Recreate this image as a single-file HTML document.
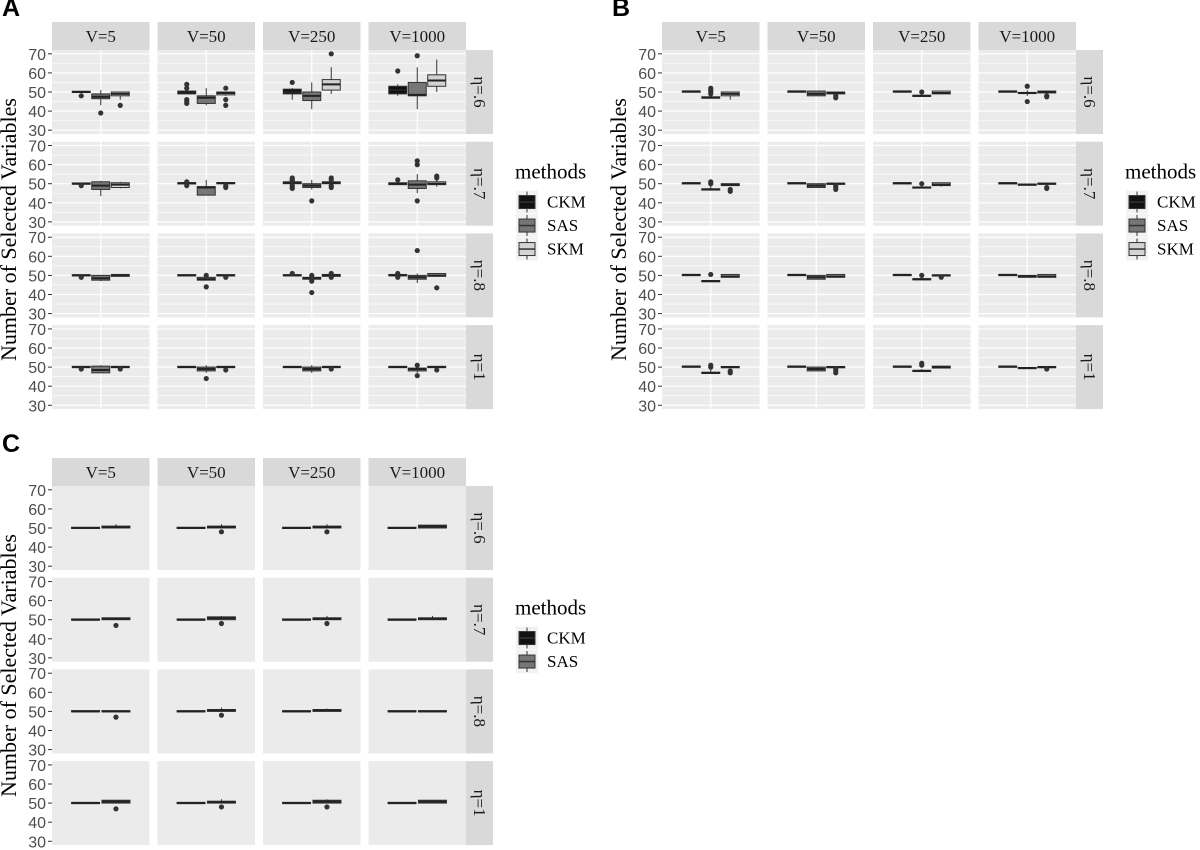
<!DOCTYPE html>
<html><head><meta charset="utf-8">
<style>
body{margin:0;background:#fff;}
svg{display:block;}
</style></head>
<body>
<svg id="chart" width="1200" height="850" viewBox="0 0 1200 850" xmlns="http://www.w3.org/2000/svg"></svg>
<script>
// ---- data: each box = [lowWhisker, q1, median, q3, highWhisker, [outliers]] ----
const columns = ["V=5","V=50","V=250","V=1000"];
const rowsLabels = ["η=.6","η=.7","η=.8","η=1"];
const yTicks = [30,40,50,60,70];
const methodsAB = ["CKM","SAS","SKM"];
const methodsC = ["CKM","SAS"];

const A_eta6 = [
 [[50,50,50,50.4,50.4,[48]],[43,46.5,47.5,49,51,[39]],[46,48,49,50,50,[43]]],
 [[49,49,50,50.5,51,[54,52,46,45,44]],[43,44,47,48,52,[]],[48,48.5,49.5,50,50,[52,46,43]]],
 [[46,49,50,51.5,52,[55]],[41,45.5,48,50,55,[]],[49,51,54,56.5,63,[70]]],
 [[48,49,51,53,54,[61]],[41,48,48.5,55,63,[69]],[50,53,56,59,67,[]]]
];
const A_eta7 = [
 [[50,50,50,50.4,50.4,[49]],[43.5,47,49,51,51.5,[]],[47.5,48,49.5,50.5,51,[]]],
 [[50,50,50.3,50.5,50.5,[51,49]],[44,44,48,48.5,52,[]],[50.3,50.3,50.3,50.6,50.6,[48,49]]],
 [[50,50,50.5,51,51,[53,52,51.8,49,48,47.5]],[47,48,49,50,52,[41]],[50,50,50.5,51,51,[53,52,49,48]]],
 [[49.5,49.5,50,50.5,50.8,[52]],[45,47.5,49.5,51.5,55,[62,60,41]],[48.5,49.5,50,51,52,[54,53]]]
];
const A_eta8 = [
 [[50,50,50,50.4,50.4,[49]],[47,47.5,48.5,50,50,[]],[49.5,49.5,50,50.5,50.5,[]]],
 [[50,50,50,50.4,50.4,[]],[47.5,47.5,48,49,49,[50,44]],[50,50,50,50.4,50.4,[49]]],
 [[50,50,50,50.4,50.4,[51]],[47,48,48.5,49,50,[50,49,48,47,41]],[49.5,49.5,50,50.5,50.5,[51,49]]],
 [[50,50,50,50.5,50.5,[51,49]],[46,48,49,50,51,[63]],[49.5,49.5,50,51,51,[43.5]]]
];
const A_eta1 = [
 [[50,50,50,50.4,50.4,[49]],[47,47,48.5,50.5,51,[]],[50,50,50,50.4,50.4,[49]]],
 [[50,50,50,50.4,50.4,[]],[47,48,49,50,51,[44]],[50,50,50,50.4,50.4,[48.5]]],
 [[50,50,50,50.4,50.4,[]],[47,48,49,50,51,[]],[50,50,50,50.4,50.4,[49]]],
 [[50,50,50,50.4,50.4,[]],[47,48,49,49.5,51,[51,45.5]],[50,50,50,50.4,50.4,[48.5]]]
];
const B_eta6 = [
 [[50.3,50.3,50.3,50.5,50.5,[]],[47,47,47,47.5,51,[52,51,50,49]],[46,48,49,50,50,[]]],
 [[50.3,50.3,50.3,50.5,50.5,[]],[48,48,49,50.5,50.5,[]],[49,49,49.5,50,50,[48,47]]],
 [[50.3,50.3,50.3,50.5,50.5,[]],[48,48,48,48.3,49,[50]],[49,49,49.5,50.5,50.5,[]]],
 [[50.3,50.3,50.3,50.5,50.5,[]],[48,49.5,49.5,49.8,51,[53,45]],[49.5,49.5,50,50.5,50.5,[48,47.5]]]
];
const B_eta7 = [
 [[50.3,50.3,50.3,50.5,50.5,[]],[47,47,47,47.3,49,[51,50]],[49,49,49.5,50,50,[47,46]]],
 [[50.3,50.3,50.3,50.5,50.5,[]],[48,48,49,50,50,[]],[50,50,50,50.3,50.3,[49,48,47]]],
 [[50.3,50.3,50.3,50.5,50.5,[]],[48,48,48,48.3,49,[50]],[48.5,49,49.5,50.5,50.5,[]]],
 [[50.3,50.3,50.3,50.5,50.5,[]],[49.3,49.3,49.5,49.8,49.8,[]],[50,50,50,50.3,50.3,[48,47.5]]]
];
const B_eta8 = [
 [[50.3,50.3,50.3,50.5,50.5,[]],[47,47,47,47.3,47.3,[50.5]],[49,49,49.5,50.5,50.5,[]]],
 [[50.3,50.3,50.3,50.5,50.5,[]],[48,48,49,50,50,[]],[49,49,49.5,50.5,50.5,[]]],
 [[50.3,50.3,50.3,50.5,50.5,[]],[48,48,48,48.3,49,[50]],[50,50,50,50.3,50.3,[49]]],
 [[50.3,50.3,50.3,50.5,50.5,[]],[49,49,49.5,50,50,[]],[49,49,49.5,50.5,50.5,[]]]
];
const B_eta1 = [
 [[50.3,50.3,50.3,50.5,50.5,[]],[47,47,47,47.3,49,[51,50]],[50,50,50,50.3,50.3,[48,47]]],
 [[50.3,50.3,50.3,50.5,50.5,[]],[48,48,49,50,50,[]],[50,50,50,50.3,50.3,[49,48,47]]],
 [[50.3,50.3,50.3,50.5,50.5,[]],[48,48,48,48.3,49,[52,51]],[49.5,49.5,50,50.5,50.5,[]]],
 [[50.3,50.3,50.3,50.5,50.5,[]],[49.3,49.3,49.5,49.8,49.8,[]],[50,50,50,50.3,50.3,[49]]]
];
const C_eta6 = [
 [[50,50,50,50.4,50.4,[]],[50,50,50.5,51,52,[]]],
 [[50,50,50,50.4,50.4,[]],[50,50,50.5,51,52,[48]]],
 [[50,50,50,50.4,50.4,[]],[50,50,50.5,51,52,[48]]],
 [[50,50,50,50.4,50.4,[]],[50,50,50.8,51.5,51.5,[]]]
];
const C_eta7 = [
 [[50,50,50,50.4,50.4,[]],[50,50,50.5,51,51,[47]]],
 [[50,50,50,50.4,50.4,[]],[50,50,50.8,51.5,52,[48]]],
 [[50,50,50,50.4,50.4,[]],[50,50,50.5,51,52,[48]]],
 [[50,50,50,50.4,50.4,[]],[50,50,50.5,51,52,[]]]
];
const C_eta8 = [
 [[50,50,50,50.4,50.4,[]],[50,50,50,50.4,50.4,[47]]],
 [[50,50,50,50.4,50.4,[]],[50,50,50.5,51,52,[48]]],
 [[50,50,50,50.4,50.4,[]],[50,50,50.5,51,51.5,[]]],
 [[50,50,50,50.4,50.4,[]],[50,50,50,50.4,50.4,[]]]
];
const C_eta1 = [
 [[50,50,50,50.4,50.4,[]],[50,50,50.8,51.5,51.5,[47]]],
 [[50,50,50,50.4,50.4,[]],[50,50,50.5,51,52,[48]]],
 [[50,50,50,50.4,50.4,[]],[50,50,50.8,51.5,52,[48]]],
 [[50,50,50,50.4,50.4,[]],[50,50,50.8,51.5,51.5,[]]]
];

const fills = {CKM:"#111111", SAS:"#767676", SKM:"#d3d3d3"};
const svg = document.getElementById('chart');
const NS = "http://www.w3.org/2000/svg";
function mk(tag, attrs, parent){ const e=document.createElementNS(NS,tag); for(const k in attrs) e.setAttribute(k,attrs[k]); (parent||svg).appendChild(e); return e; }

const YMIN=28, YMAX=72, PH=84, PW=97.5, CGAP=8, RGAP=7.7;

function drawFigure(letter, ox, oy, rows, methods, grid){
  const g = mk('g',{});
  
  
  const lab = mk('text',{x:ox-50, y:oy-6, 'font-family':'Liberation Sans, sans-serif','font-size':25,'font-weight':'bold',fill:'#000'},g);
  lab.textContent = letter;
  
  
  const stripTop = oy, panelTop = oy+28;
  columns.forEach((c,ci)=>{
    const x = ox + ci*(PW+CGAP);
    const r = mk('rect',{x:x,y:stripTop,width:PW,height:28,fill:'#d9d9d9'},g);
    
    
    const t = mk('text',{x:x+PW/2,y:stripTop+20,'text-anchor':'middle','font-family':'Liberation Serif, serif','font-size':17,fill:'#1a1a1a'},g);
    t.textContent = c;
    
    
  });
  const rightX = ox + 4*PW + 3*CGAP;
  const yMid = panelTop + (4*PH+3*RGAP)/2;
  const yt = mk('text',{x:0,y:0,transform:`translate(${ox-36},${yMid}) rotate(-90)`,'text-anchor':'middle','font-family':'Liberation Serif, serif','font-size':22,fill:'#000'},g);
  yt.textContent = 'Number of Selected Variables';
  
  

  const n = methods.length;
  const off = n===3 ? 19.5 : 15.2;
  const bw = n===3 ? 18 : 28;
  rows.forEach((row,ri)=>{
    const py = panelTop + ri*(PH+RGAP);
    const ys = v => py + PH - (v-YMIN)/(YMAX-YMIN)*PH;
    const rs = mk('rect',{x:rightX,y:py,width:27,height:PH,fill:'#d9d9d9'},g);
    
    
    const rt = mk('text',{x:0,y:0,transform:`translate(${rightX+8},${py+PH/2}) rotate(90)`,'text-anchor':'middle','font-family':'Liberation Serif, serif','font-size':17,fill:'#1a1a1a'},g);
    rt.textContent = rowsLabels[ri];
    
    
    yTicks.forEach(tv=>{
      const tl = mk('text',{x:ox-6,y:ys(tv)+6,'text-anchor':'end','font-family':'Liberation Sans, sans-serif','font-size':16,fill:'#4d4d4d'},g);
      tl.textContent = tv;
      
      
      mk('line',{x1:ox-4,x2:ox,y1:ys(tv),y2:ys(tv),stroke:'#333','stroke-width':1},g);
    });
    row.forEach((cell,ci)=>{
      const px = ox + ci*(PW+CGAP);
      const bg = mk('rect',{x:px,y:py,width:PW,height:PH,fill:'#ebebeb'},g);
      
      
      const cx = px + PW/2;
      if(grid){
        for(let v=35; v<=65; v+=10) mk('line',{x1:px,x2:px+PW,y1:ys(v),y2:ys(v),stroke:'#fff','stroke-width':0.6},g);
        yTicks.forEach(v=>mk('line',{x1:px,x2:px+PW,y1:ys(v),y2:ys(v),stroke:'#fff','stroke-width':1.2},g));
        mk('line',{x1:cx,x2:cx,y1:py,y2:py+PH,stroke:'#fff','stroke-width':1.2},g);
      }
      cell.forEach((b,mi)=>{
        const x0 = cx + (n===3 ? (mi-1)*off : (mi-0.5)*2*off);
        const [lo,q1,md,q3,hi,outs] = b;
        const bg2 = mk('g',{},g);
        
        
        mk('line',{x1:x0,x2:x0,y1:ys(hi),y2:ys(lo),stroke:'#333','stroke-width':1},bg2);
        const h = Math.max(ys(q1)-ys(q3),1.2);
        mk('rect',{x:x0-bw/2,y:ys(q3),width:bw,height:h,fill:fills[methods[mi]],stroke:'#333','stroke-width':1},bg2);
        mk('line',{x1:x0-bw/2,x2:x0+bw/2,y1:ys(md),y2:ys(md),stroke:'#222','stroke-width':2},bg2);
        outs.forEach(o=>{
          const c = mk('circle',{cx:x0,cy:ys(o),r:2.6,fill:'#333'},bg2);
          
          
        });
      });
    });
  });
  const lx = rightX + 50, ly = panelTop + 1.5*(PH+RGAP) - 9;
  const lt = mk('text',{x:lx-1,y:ly,'font-family':'Liberation Serif, serif','font-size':21,fill:'#000'},g);
  lt.textContent='methods';
  
  
  methods.forEach((m,mi)=>{
    const ky = ly + 12 + mi*23.5;
    const kg = mk('g',{},g);
    
    
    mk('rect',{x:lx,y:ky,width:22,height:23,fill:'#f2f2f2'},kg);
    mk('line',{x1:lx+11,x2:lx+11,y1:ky+1,y2:ky+22,stroke:'#333'},kg);
    mk('rect',{x:lx+3,y:ky+5,width:16,height:13,fill:fills[m],stroke:'#333'},kg);
    mk('line',{x1:lx+3,x2:lx+19,y1:ky+11.5,y2:ky+11.5,stroke:'#333','stroke-width':1.5},kg);
    const tt = mk('text',{x:lx+31,y:ky+17,'font-family':'Liberation Serif, serif','font-size':17,fill:'#000'},kg);
    tt.textContent=m;
  });
}
drawFigure('A', 52, 22, [A_eta6,A_eta7,A_eta8,A_eta1], methodsAB, true);
drawFigure('B', 662, 22, [B_eta6,B_eta7,B_eta8,B_eta1], methodsAB, true);
drawFigure('C', 52, 458, [C_eta6,C_eta7,C_eta8,C_eta1], methodsC, false);
</script>
</body></html>
